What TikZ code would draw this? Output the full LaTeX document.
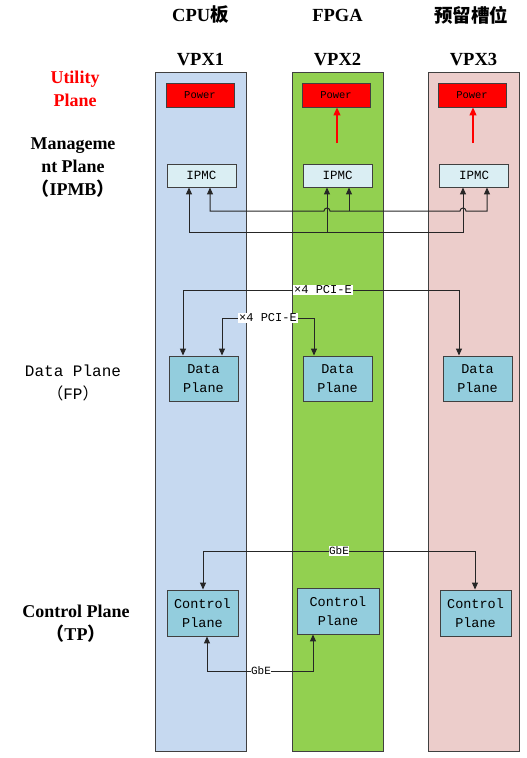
\documentclass[tikz,border=0pt]{standalone}
\usepackage{fontspec}
\setmainfont{Liberation Serif}
\setmonofont{Liberation Mono}
\newfontfamily\cjk{Noto Sans CJK SC}
\usetikzlibrary{arrows.meta,calc}
\definecolor{colA}{HTML}{C6D9F0}
\definecolor{colB}{HTML}{92D050}
\definecolor{colC}{HTML}{ECCDCB}
\definecolor{ipmcfill}{HTML}{DAEEF3}
\definecolor{planefill}{HTML}{93CDDD}
\definecolor{edge}{HTML}{404040}
\begin{document}
\begin{tikzpicture}[x=1pt,y=-1pt,
  colbox/.style={draw=edge,line width=0.9pt,minimum width=91pt,minimum height=679pt,inner sep=0pt},
  pwrbox/.style={draw=edge,line width=0.9pt,fill=red,minimum width=68pt,minimum height=24pt,inner sep=0pt,font=\ttfamily\fontsize{10.5}{12}\selectfont},
  ipmcbox/.style={draw=edge,line width=0.9pt,fill=ipmcfill,minimum width=69pt,minimum height=23pt,inner sep=0pt,font=\ttfamily\fontsize{12.5}{14}\selectfont},
  planebox/.style={draw=edge,line width=0.9pt,fill=planefill,minimum height=46pt,inner sep=0pt,align=center,font=\ttfamily\fontsize{13.5}{19}\selectfont},
  head/.style={font=\bfseries\fontsize{18.5}{20}\selectfont},
  rowlab/.style={align=center,font=\bfseries\fontsize{18}{23}\selectfont},
  link/.style={draw=black!85,line width=1pt,{Triangle[length=7pt,width=6pt]}-{Triangle[length=7pt,width=6pt]}},
  onearrow/.style={draw=black!85,line width=1pt,-{Triangle[length=7pt,width=6pt]}},
  lbl/.style={fill=white,inner sep=1pt,font=\ttfamily\fontsize{12}{13}\selectfont},
  glbl/.style={fill=white,inner sep=0.5pt,font=\ttfamily\fontsize{11}{12}\selectfont},
  redarrow/.style={draw=red,line width=1.3pt,-{Triangle[length=8pt,width=7pt]}}
]
\useasboundingbox (0,0) rectangle (527,758);
% columns
\node[colbox,fill=colA] (c1) at (200.5,411.5) {};
\node[colbox,fill=colB] (c2) at (337.5,411.5) {};
\node[colbox,fill=colC] (c3) at (473.5,411.5) {};
% headings
\node[head] (h1) at (200.5,15) {CPU{\cjk 板}};
\node[head] (h2) at (337.5,15) {FPGA};
\node[head] (h3) at (471,15) {\cjk 预留槽位};
\node[head] (v1) at (200.5,60) {VPX1};
\node[head] (v2) at (337.5,60) {VPX2};
\node[head] (v3) at (473.5,60) {VPX3};
% row labels
\node[rowlab,text=red] (r1) at (75,89) {Utility\\Plane};
\node[rowlab] (r2) at (73,168) {Manageme\\nt Plane\\{\cjk （}IPMB{\cjk ）}};
\node[align=center,font=\ttfamily\fontsize{16}{23}\selectfont] (r3) at (73,383) {Data Plane\\{\cjk （}FP{\cjk ）}};
\node[rowlab] (r4) at (76,624) {Control Plane\\{\cjk （}TP{\cjk ）}};
% power
\node[pwrbox] (p1) at (200,95) {Power};
\node[pwrbox] (p2) at (336,95) {Power};
\node[pwrbox] (p3) at (472,95) {Power};
\coordinate (q2) at (337,143);
\coordinate (q3) at (473,143);
\draw[redarrow] (q2) -- (q2 |- p2.south);
\draw[redarrow] (q3) -- (q3 |- p3.south);
% IPMC
\node[ipmcbox] (i1) at (201.5,175.5) {IPMC};
\node[ipmcbox] (i2) at (337.5,175.5) {IPMC};
\node[ipmcbox] (i3) at (474,175.5) {IPMC};
% lower IPMB bus
\coordinate (la) at ([xshift=-12.5pt]i1.south);
\coordinate (lb) at ([xshift=-11pt]i3.south);
\coordinate (lc) at ([xshift=-10.5pt]i2.south);
\coordinate (ly) at (0,232);
\draw[link] (la) -- (la |- ly) -- (lb |- ly) -- (lb);
\draw[onearrow] (lc |- ly) -- (lc);
% upper IPMB bus with hops
\coordinate (ua) at ([xshift=8.5pt]i1.south);
\coordinate (ub) at ([xshift=13pt]i3.south);
\coordinate (uc) at ([xshift=11.5pt]i2.south);
\coordinate (uy) at (0,211);
\draw[link] (ua) -- (ua |- uy) -- ([xshift=-3pt]lc |- uy) arc[start angle=180,end angle=0,radius=3pt] -- ([xshift=-3pt]lb |- uy) arc[start angle=180,end angle=0,radius=3pt] -- (ub |- uy) -- (ub);
\draw[onearrow] (uc |- uy) -- (uc);
% data planes
\node[planebox,minimum width=69pt,minimum height=45pt] (d1) at (203.5,378.5) {Data\\Plane};
\node[planebox,minimum width=69pt,minimum height=45pt] (d2) at (337.5,378.5) {Data\\Plane};
\node[planebox,minimum width=69pt,minimum height=45pt] (d3) at (477.5,378.5) {Data\\Plane};
\coordinate (da) at ([xshift=-20.5pt]d1.north);
\coordinate (db) at ([xshift=-18.5pt]d3.north);
\coordinate (dy1) at (0,290);
\draw[link] (da) -- (da |- dy1) -- (db |- dy1) -- (db);
\node[lbl] (pcie1) at (323,290) {×4 PCI-E};
\coordinate (dc) at ([xshift=18.5pt]d1.north);
\coordinate (dd) at ([xshift=-23.5pt]d2.north);
\coordinate (dy2) at (0,318);
\draw[link] (dc) -- (dc |- dy2) -- (dd |- dy2) -- (dd);
\node[lbl] (pcie2) at (268,318) {×4 PCI-E};
% control planes
\node[planebox,minimum width=71pt] (k1) at (202.5,613) {Control\\Plane};
\node[planebox,minimum width=82pt] (k2) at (338,611) {Control\\Plane};
\node[planebox,minimum width=71pt] (k3) at (475.5,613) {Control\\Plane};
\coordinate (ka) at ([xshift=0.5pt]k1.north);
\coordinate (kb) at ([xshift=-0.5pt]k3.north);
\coordinate (ky1) at (0,551);
\draw[link] (ka) -- (ka |- ky1) -- (kb |- ky1) -- (kb);
\node[glbl] (gbe1) at (339,551) {GbE};
\coordinate (kc) at ([xshift=4.5pt]k1.south);
\coordinate (kd) at ([xshift=-25pt]k2.south);
\coordinate (ky2) at (0,671);
\draw[link] (kc) -- (kc |- ky2) -- (kd |- ky2) -- (kd);
\node[glbl] (gbe2) at (261,671) {GbE};
\end{tikzpicture}
\end{document}
